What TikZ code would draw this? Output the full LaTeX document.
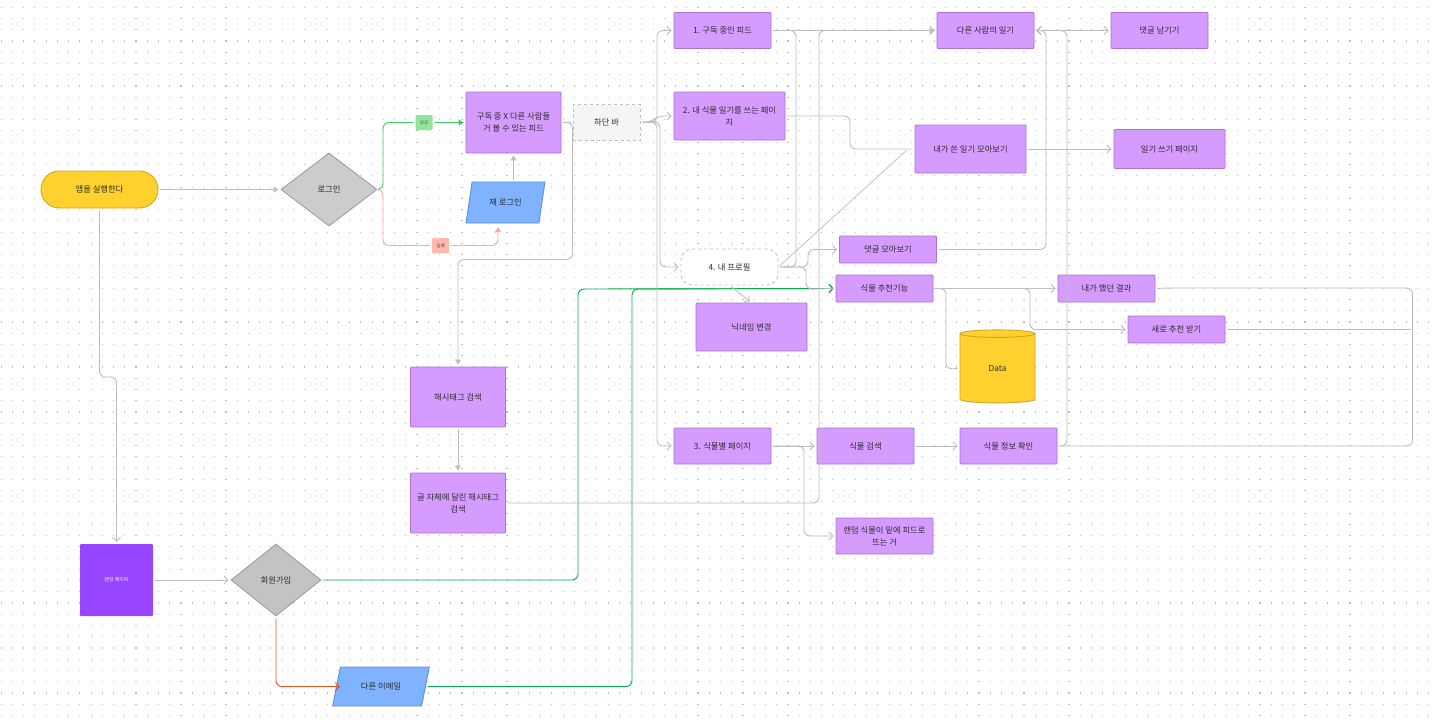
\documentclass[tikz,border=0pt]{standalone}
\usepackage{fontspec}
\setmainfont{Noto Sans CJK KR}
\usetikzlibrary{positioning,shapes.geometric,arrows.meta}
\definecolor{boxfill}{HTML}{D69BFF}
\definecolor{boxline}{HTML}{B071D6}
\definecolor{yellowfill}{HTML}{FFD12E}
\definecolor{yellowline}{HTML}{CFA61F}
\definecolor{bluefill}{HTML}{80B3FF}
\definecolor{blueline}{HTML}{5F8FD6}
\definecolor{wire}{HTML}{BDBDBD}
\definecolor{okgreen}{HTML}{00B050}
\definecolor{okgreenlt}{HTML}{3CCB63}
\definecolor{failred}{HTML}{FFA89C}
\definecolor{signred}{HTML}{F24E1E}
\definecolor{greya}{HTML}{CDCBCB}
\definecolor{greyb}{HTML}{C3C3C3}
\definecolor{greyline}{HTML}{9F9D9D}
\definecolor{tagok}{HTML}{92E59B}
\definecolor{tagfail}{HTML}{FFB8AB}
\definecolor{landfill}{HTML}{9845FF}
\definecolor{txt}{HTML}{2C2C2C}
\tikzset{
  box/.style 2 args={rectangle,draw=boxline,fill=boxfill,line width=.9pt,rounded corners=1pt,
    minimum width=#1pt,minimum height=#2pt,inner sep=0pt,align=center,text=txt,font=\fontsize{8.3}{12}\selectfont},
  wide/.style={box={111}{48}},
  small/.style={box={97}{36}},
  thin/.style={box={97}{27}},
  tall/.style={box={95}{60}},
  check/.style={diamond,draw=greyline,fill=#1,line width=.9pt,aspect=1.25,inner sep=0pt,text=txt,font=\fontsize{8.3}{12}\selectfont},
  slant/.style 2 args={trapezium,trapezium stretches=true,trapezium left angle=#1,trapezium right angle=180-#1,
    draw=blueline,fill=bluefill,line width=.9pt,minimum width=#2pt,inner sep=0pt,text=txt,font=\fontsize{8.3}{12}\selectfont},
  tag/.style={rectangle,fill=#1,rounded corners=1pt,minimum width=17pt,minimum height=15pt,inner sep=0pt,
    text=black!70,font=\fontsize{4.5}{5}\selectfont},
  wire/.style={draw=wire,line width=.9pt,rounded corners=6pt,shorten >=2pt,shorten <=2pt,-{Straight Barb[length=4pt,width=8pt]}},
  wirefill/.style={wire,-{Triangle[length=5pt,width=6pt]}},
  plain/.style={wire,-},
}
\begin{document}
\begin{tikzpicture}[x=1pt,y=-1pt,on grid,auto]
\useasboundingbox (0,0) rectangle (1437,724);
\fill[white] (0,0) rectangle (1437,724);
\foreach \j in {0,...,63}
  \draw[black!25,line width=1.1pt,dash pattern=on 1.1pt off 10.14pt] (.6,7.3+11.24*\j) -- (1437,7.3+11.24*\j);

\node[rectangle,rounded corners=18.5pt,draw=yellowline,fill=yellowfill,line width=.9pt,minimum width=117pt,minimum height=37pt,inner sep=0pt,text=txt,font=\fontsize{8.3}{12}\selectfont] (start) at (99.5,189.5) {앱을 실행한다};
\node[check=greya,minimum width=96pt,minimum height=73pt] (login) [right=229.5pt of start] {로그인};
\node[box={95}{61}] (feed) [above right=67pt and 184.5pt of login] {구독 중 X 다른 사람들\\거 볼 수 있는 피드};
\node[slant={68.7}{79},minimum height=41pt] (relogin) [below=80pt of feed,xshift=-8pt] {재 로그인};
\node[rectangle,draw=black!25,dashed,fill=black!4,line width=.9pt,minimum width=67pt,minimum height=36pt,inner sep=0pt,text=txt,font=\fontsize{8.3}{12}\selectfont] (bar) [right=93pt of feed] {하단 바};
\node[tag=tagok] (ok) at (424,122.5) {성공};
\node[tag=tagfail] (fail) at (440.5,245.5) {실패};

\node[small] (p_1) at (722.5,30.5) {1. 구독 중인 피드};
\node[wide] (p_2) at (729.5,116) {2. 내 식물 일기를 쓰는 페이\\지};
\node[rectangle,rounded corners=11pt,draw=black!25,dashed,fill=white,line width=.9pt,minimum width=97pt,minimum height=36pt,inner sep=0pt,text=txt,font=\fontsize{8.3}{12}\selectfont] (p_4) [below=151pt of p_2] {4. 내 프로필};
\node[wide] (nick) [below right=60pt and 22pt of p_4] {닉네임 변경};
\node[small] (p_3) at (722.5,446) {3. 식물별 페이지};
\node[small] (search) [right=143pt of p_3] {식물 검색};
\node[small] (info) [right=143pt of search] {식물 정보 확인};
\node[small] (random) at (884.5,536) {랜덤 식물이 밑에 피드로\\뜨는 거};
\node[small] (other) [right=263pt of p_1] {다른 사람의 일기};
\node[small] (reply) [right=174pt of other] {댓글 남기기};
\node[wide] (mine) at (970.5,149) {내가 쓴 일기 모아보기};
\node[box={111}{39}] (write) [right=199pt of mine] {일기 쓰기 페이지};
\node[thin] (comments) at (888,249.5) {댓글 모아보기};
\node[thin] (recom) at (884.5,288.5) {식물 추천기능};
\node[thin] (result) [right=222pt of recom] {내가 했던 결과};
\node[thin] (renew) [below right=41pt and 70pt of result] {새로 추천 받기};
\node[cylinder,shape border rotate=90,aspect=.42,draw=yellowline,fill=yellowfill,line width=.9pt,minimum width=75pt,minimum height=73pt,inner sep=0pt,text=txt,font=\fontsize{8.3}{12}\selectfont] (data) at (997.5,368.5) {Data};

\node[tall] (hash) at (458,397) {해시태그 검색};
\node[tall] (tagged) [below=106pt of hash] {글 자체에 달린 해시태그\\검색};
\node[rectangle,fill=landfill,rounded corners=1pt,minimum width=73pt,minimum height=72pt,inner sep=0pt,text=white,font=\fontsize{5}{6}\selectfont] (landing) at (116.5,580) {랜딩 페이지};
\node[check=greyb,minimum width=90pt,minimum height=72pt] (signup) [right=159.5pt of landing] {회원가입};
\node[slant={63}{97},minimum height=39pt] (email) at (381,686.5) {다른 이메일};

\draw[wirefill] (start) -- (login);
\draw[wire] (start.south) -- (99.5,377) -- (116.5,377) -- (landing.north);
\draw[wire] (landing) -- (signup);
\draw[wirefill] (relogin.north -| feed.south) -- (feed.south);
\draw[wirefill] (hash) -- (tagged);

\draw[plain,draw=okgreenlt] (login.east) -- (383,189.5) -- (383,122.5) -- (ok);
\draw[wirefill,draw=okgreenlt] (ok) -- (feed.west);
\draw[plain,draw=failred] (login.east) -- (383,189.5) -- (383,245.5) -- (fail);
\draw[wirefill,draw=failred] (fail) -- (498,245.5) -- (498,225);
\draw[wire,draw=signred] (signup.south) -- (276,686.5) -- (342,686.5);
\draw[wire,draw=okgreen] (signup.east) -- (578,580) -- (578,289) -- (recom.west);
\draw[wire,draw=okgreen] (email.east) -- (632,686.5) -- (632,289) -- (recom.west);

\draw[wirefill] (feed.east) -- (572.5,122) -- (572.5,259.5) -- (458,259.5) -- (hash.north);
\draw[plain] (feed.east) -- (bar.west);
\draw[wire] (bar.east) -- (651,122) -- (657,122) -- (657,30.5) -- (p_1.west);
\draw[wire] (bar.east) -- (651,122) -- (658,116) -- (p_2.west);
\draw[wire] (bar.east) -- (651,122) -- (660,122) -- (660,267) -- (p_4.west);
\draw[wire] (bar.east) -- (651,122) -- (657,122) -- (657,446) -- (p_3.west);

\draw[wirefill] (p_1.east) -- (other.west);
\draw[plain] (p_1.east) -- (796,30.5) -- (796,267) -- (p_4.east);
\draw[plain] (p_2.east) -- (850,116) -- (850,149) -- (mine.west);
\draw[plain,line width=.7pt] (p_4.east) -- (908,149);
\draw[wire] (p_4.east) -- (808,267) -- (808,249.5) -- (comments.west);
\draw[plain] (p_4.east) -- (806,267) -- (806,289) -- (recom.west);
\draw[wire] (p_4.south) -- (nick.north);
\draw[wire] (comments.east) -- (1046,249.5) -- (1046,30.5) -- (other.east);
\draw[wire,{Straight Barb[length=4pt,width=8pt]}-{Straight Barb[length=4pt,width=8pt]}] (other) -- (reply);
\draw[wire] (mine) -- (write);
\draw[wire] (info.east) -- (1067,446) -- (1067,30.5) -- (other.east);
\draw[wire] (recom) -- (result);
\draw[wire] (recom.east) -- (1030,288.5) -- (1030,329.5) -- (renew.west);
\draw[plain] (recom.east) -- (946,288.5) -- (946,369) -- (data.west);
\draw[plain] (result.east) -- (1168,288) -- (1412.5,288) -- (1412.5,446) -- (info.east);
\draw[plain] (renew.east) -- (1412.5,329.5);
\draw[wire] (p_3) -- (search);
\draw[wire] (search) -- (info);
\draw[wire] (p_3.east) -- (804,446) -- (804,536) -- (random.west);
\draw[wire] (tagged.east) -- (819,503) -- (819,30.5) -- (other.west);
\end{tikzpicture}
\end{document}
